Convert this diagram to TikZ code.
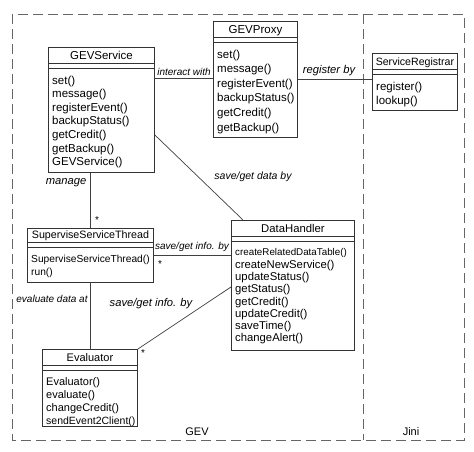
\documentclass[tikz,border=0pt]{standalone}
\usepackage{fontspec}
\setmainfont{Liberation Sans}

\tikzset{
  classbox/.style={draw=black!80, line width=0.9pt, inner sep=0pt, anchor=north west},
  classline/.style={draw=black!80, line width=0.9pt},
  classtitle/.style={anchor=base, inner sep=0pt},
  classops/.style={anchor=north west, inner sep=0pt, align=left},
  assoc/.style={draw=black!75, line width=0.7pt},
  role/.style={font=\itshape\fontsize{11.2}{13}\selectfont, inner sep=0pt},
  rolesmall/.style={font=\itshape\fontsize{10}{12}\selectfont, inner sep=0pt},
  mult/.style={font=\fontsize{10}{12}\selectfont, inner sep=0pt},
  gevframe/.style={draw=black!60, line width=0.9pt, dash pattern=on 10pt off 5pt}
}

% [font]{name}{corner}{width}{height}{title height}{title}{operations}
\newcommand{\UMLClass}[8][\fontsize{11.5}{13.6}\selectfont]{%
  \node[classbox, minimum width=#4pt, minimum height=#5pt] (#2) at (#3) {};
  \draw[classline] ([yshift=-#6pt]#2.north west) -- ([yshift=-#6pt]#2.north east);
  \draw[classline] ([yshift=-#6pt-5pt]#2.north west) -- ([yshift=-#6pt-5pt]#2.north east);
  \node[classtitle, font=#1] (#2-title) at ([yshift=-#6pt+3.5pt]#2.north) {#7};
  \node[classops, font=#1] (#2-ops) at ([shift={(4pt,-#6pt-12.5pt)}]#2.north west) {#8};
}

\begin{document}
\begin{tikzpicture}[x=1pt,y=-1pt]
  \useasboundingbox (0,0) rectangle (474,452);

  % GEV / Jini frame
  \draw[gevframe] (12,14) rectangle (464,440);
  \draw[gevframe] (363,14) -- (363,440);
  \node[font=\fontsize{11}{13}\selectfont] (lbl-gev)  at (197,432) {GEV};
  \node[font=\fontsize{11}{13}\selectfont] (lbl-jini) at (411,432) {Jini};

  % classes
  \UMLClass{gevservice}{48,47}{106}{125}{16}{GEVService}
    {set()\\ message()\\ registerEvent()\\ backupStatus()\\ getCredit()\\ getBackup()\\ GEVService()}
  \UMLClass[\fontsize{11.5}{14.6}\selectfont]{gevproxy}{213,21}{84}{116}{16}{GEVProxy}
    {set()\\ message()\\ registerEvent()\\ backupStatus()\\ getCredit()\\ getBackup()}
  \UMLClass[\fontsize{11.5}{14}\selectfont]{registrar}{372,53}{85}{57}{16}
    {\fontsize{10.6}{12}\selectfont ServiceRegistrar}
    {register()\\ lookup()}
  \UMLClass[\fontsize{10.2}{13}\selectfont]{sst}{27,228}{126}{54}{14}
    {\fontsize{10.7}{12}\selectfont SuperviseServiceThread}
    {SuperviseServiceThread()\\ run()}
  \UMLClass[\fontsize{11.3}{12.3}\selectfont]{datahandler}{231,220}{123}{130}{16}{DataHandler}
    {{\fontsize{9.8}{12.3}\selectfont createRelatedDataTable()}\\ createNewService()\\ updateStatus()\\
     getStatus()\\ getCredit()\\ updateCredit()\\ saveTime()\\ changeAlert()}
  \UMLClass[\fontsize{11}{13}\selectfont]{evaluator}{42,349}{95}{77}{16}{Evaluator}
    {Evaluator()\\ evaluate()\\ changeCredit()\\ {\fontsize{10.5}{13}\selectfont sendEvent2Client()}}

  % associations
  \draw[assoc] (gevservice.east |- 0,78) -- (gevproxy.west |- 0,78);
  \draw[assoc] (gevproxy.east |- 0,79) -- (registrar.west |- 0,79);
  \draw[assoc] (gevservice.east |- 0,135) -- ([xshift=12pt]datahandler.north west);
  \draw[assoc] (gevservice.south -| sst.north) -- (sst.north);
  \draw[assoc] (sst.south) -- (sst.south |- evaluator.north);
  \draw[assoc] (sst.east) -- (sst.east -| datahandler.west);
  \draw[assoc] (evaluator.north east) -- (datahandler.west |- 0,287);

  % association labels
  \node[rolesmall] (lbl-interact) at (184,72)  {interact with};
  \node[role]      (lbl-register) at (329,71)  {register by};
  \node[role, font=\itshape\fontsize{10.5}{12}\selectfont]
                   (lbl-savedata) at (253,177) {save/get data by};
  \node[role]      (lbl-manage)   at (66,183)  {manage};
  \node[rolesmall] (lbl-evaluate) at (52,299)  {evaluate data at};
  \node[rolesmall] (lbl-infotop)  at (192,247) {save/get info. by};
  \node[role]      (lbl-infolow)  at (151,304) {save/get info. by};

  % multiplicities
  \node[mult] (m-sst-top)   at (97,220)  {*};
  \node[mult] (m-sst-right) at (160,264) {*};
  \node[mult] (m-eval)      at (143,353) {*};
\end{tikzpicture}
\end{document}
